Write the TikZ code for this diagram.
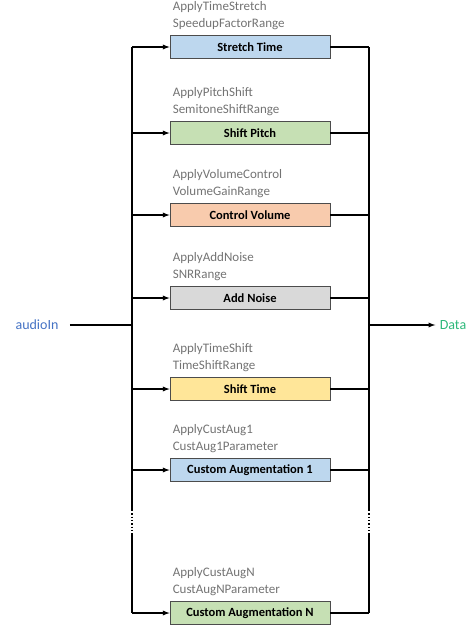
\documentclass[tikz,border=0pt]{standalone}
\usepackage{xcolor}
\usepackage{fontspec}
\setmainfont{Carlito}
\usepackage{tikz}
\usetikzlibrary{arrows,positioning,calc}

\definecolor{boxblue}{HTML}{BDD7EE}
\definecolor{boxgreen}{HTML}{C6E0B4}
\definecolor{boxorange}{HTML}{F8CBAD}
\definecolor{boxgray}{HTML}{D9D9D9}
\definecolor{boxyellow}{HTML}{FFE699}
\definecolor{inblue}{HTML}{4472C4}
\definecolor{outgreen}{HTML}{2DB87A}

\begin{document}
\begin{tikzpicture}[
    x=1pt, y=-1pt,
    aug/.style={rectangle, minimum width=160pt, minimum height=23pt, inner sep=1pt, text centered, draw=black!70, line width=0.8pt, font=\bfseries\fontsize{12.5}{13}\selectfont},
    param/.style={anchor=south west, align=left, text=black!55, inner sep=0pt, font=\fontsize{13}{17.5}\selectfont},
    bus/.style={line width=1.3pt},
    feed/.style={-latex, line width=1.3pt}
]
\useasboundingbox (0,0) rectangle (474,629);

% Bus end points
\coordinate (ltop) at (132,47);
\coordinate (lbot) at (132,613);
\coordinate (rtop) at (369,47);
\coordinate (rbot) at (369,613);
\coordinate (lgap1) at (132,510);
\coordinate (lgap2) at (132,533);
\coordinate (rgap1) at (369,510);
\coordinate (rgap2) at (369,533);
\coordinate (lmid) at (132,325);
\coordinate (rmid) at (369,325);

% Augmentation blocks
\node[aug, fill=boxblue] (stretch) at (250,47) {Stretch Time};
\node[aug, fill=boxgreen] (pitch) at (250,133) {Shift Pitch};
\node[aug, fill=boxorange] (volume) at (250,215) {Control Volume};
\node[aug, fill=boxgray] (noise) at (250,298) {Add Noise};
\node[aug, fill=boxyellow] (shift) at (250,389) {Shift Time};
\node[aug, fill=boxblue] (cust1) at (250,470) {Custom Augmentation 1};
\node[aug, fill=boxgreen] (custn) at (250,613) {Custom Augmentation N};

% Parameters
\node[param] (pstretch) at ($(stretch.north west)+(3,-5)$) {ApplyTimeStretch\\SpeedupFactorRange};
\node[param] (ppitch) at ($(pitch.north west)+(3,-5)$) {ApplyPitchShift\\SemitoneShiftRange};
\node[param] (pvolume) at ($(volume.north west)+(3,-5)$) {ApplyVolumeControl\\VolumeGainRange};
\node[param] (pnoise) at ($(noise.north west)+(3,-5)$) {ApplyAddNoise\\SNRRange};
\node[param] (pshift) at ($(shift.north west)+(3,-5)$) {ApplyTimeShift\\TimeShiftRange};
\node[param] (pcust1) at ($(cust1.north west)+(3,-5)$) {ApplyCustAug1\\CustAug1Parameter};
\node[param] (pcustn) at ($(custn.north west)+(3,-5)$) {ApplyCustAugN\\CustAugNParameter};

% Input and output
\node[text=inblue, font=\fontsize{14}{15}\selectfont] (audioin) at (37,325) {audioIn};
\node[text=outgreen, font=\fontsize{14}{15}\selectfont] (data) at (453,325) {Data};

% Buses
\draw[bus] (ltop) -- (lgap1);
\draw[bus, dotted] (lgap1) -- (lgap2);
\draw[bus] (lgap2) -- (lbot);
\draw[bus] (rtop) -- (rgap1);
\draw[bus, dotted] (rgap1) -- (rgap2);
\draw[bus] (rgap2) -- (rbot);

% Connections
\draw[bus, shorten <=8pt] (audioin) -- (lmid);
\draw[feed, shorten >=1pt] (rmid) -- (data);
\draw[feed] (ltop) -- (stretch.west);
\draw[feed] (pitch.west -| ltop) -- (pitch.west);
\draw[feed] (volume.west -| ltop) -- (volume.west);
\draw[feed] (noise.west -| ltop) -- (noise.west);
\draw[feed] (shift.west -| ltop) -- (shift.west);
\draw[feed] (cust1.west -| ltop) -- (cust1.west);
\draw[feed] (lbot) -- (custn.west);
\draw[bus] (stretch.east) -- (rtop);
\draw[bus] (pitch.east) -- (pitch.east -| rtop);
\draw[bus] (volume.east) -- (volume.east -| rtop);
\draw[bus] (noise.east) -- (noise.east -| rtop);
\draw[bus] (shift.east) -- (shift.east -| rtop);
\draw[bus] (cust1.east) -- (cust1.east -| rtop);
\draw[bus] (custn.east) -- (rbot);

\end{tikzpicture}
\end{document}
